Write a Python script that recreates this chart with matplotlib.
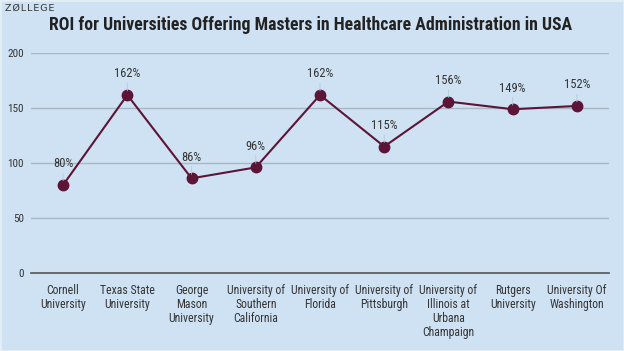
import matplotlib
matplotlib.use("Agg")
import matplotlib.pyplot as plt
from matplotlib.patches import Rectangle

categories = ["Cornell\nUniversity", "Texas State\nUniversity", "George\nMason\nUniversity",
              "University of\nSouthern\nCalifornia", "University of\nFlorida",
              "University of\nPittsburgh", "University of\nIllinois at\nUrbana\nChampaign",
              "Rutgers\nUniversity", "University Of\nWashington"]
roi = [80, 162, 86, 96, 162, 115, 156, 149, 152]
yticks = [0, 50, 100, 150, 200]

FONT = ["Liberation Sans Narrow", "Roboto Condensed", "DejaVu Sans"]
plt.rcParams['font.family'] = FONT

bg = "#cfe2f3"
fig = plt.figure(figsize=(6.24, 3.51), dpi=100, facecolor=bg)
ax = fig.add_axes([31/624, 1-272.7/351, (609-31)/624, (272.7-53.3)/351])
ax.set_facecolor(bg)

x = list(range(len(categories)))
ax.plot(x, roi, color="#5c1437", lw=1.5, marker="o", ms=7.5, zorder=3)
for xi, v in zip(x, roi):
    ax.annotate(f"{v}%", xy=(xi, v), xytext=(0, 10.5), textcoords="offset points",
                ha="center", va="bottom", fontsize=9, color="#333333",
                arrowprops=dict(arrowstyle="-", color="#b8c8d8", lw=0.6, shrinkA=0, shrinkB=3))

ax.set_xlim(-0.5, len(categories)-0.5)
ax.set_ylim(0, 200)
ax.set_yticks(yticks)
ax.set_xticks(x)
ax.set_xticklabels(categories, fontsize=8.5, color="#333333", linespacing=1.1)
ax.tick_params(axis="y", labelsize=8, colors="#333333", length=0, pad=5)
ax.tick_params(axis="x", length=0, pad=8)
ax.grid(axis="y", color="#a9b7c5", lw=1)
ax.set_axisbelow(True)
for s in ["top", "right", "left"]:
    ax.spines[s].set_visible(False)
ax.spines["bottom"].set_color("#555555")
ax.spines["bottom"].set_linewidth(1.2)

fig.text(311/624, 1-25/351, "ROI for Universities Offering Masters in Healthcare Administration in USA",
         ha="center", va="center", fontsize=12.8, fontweight="bold", color="#222222")
fig.text(5/624, 1-8/351, "\u200a".join("Z\u00d8LLEGE"), ha="left", va="center", fontsize=6.8,
         color="#333333", family=["DejaVu Sans"])
fig.patches.append(Rectangle((0, 0), 1, 1, transform=fig.transFigure, fill=False,
                             edgecolor="#e6eef5", lw=2))

fig.savefig("out.png", dpi=100, facecolor=bg)
